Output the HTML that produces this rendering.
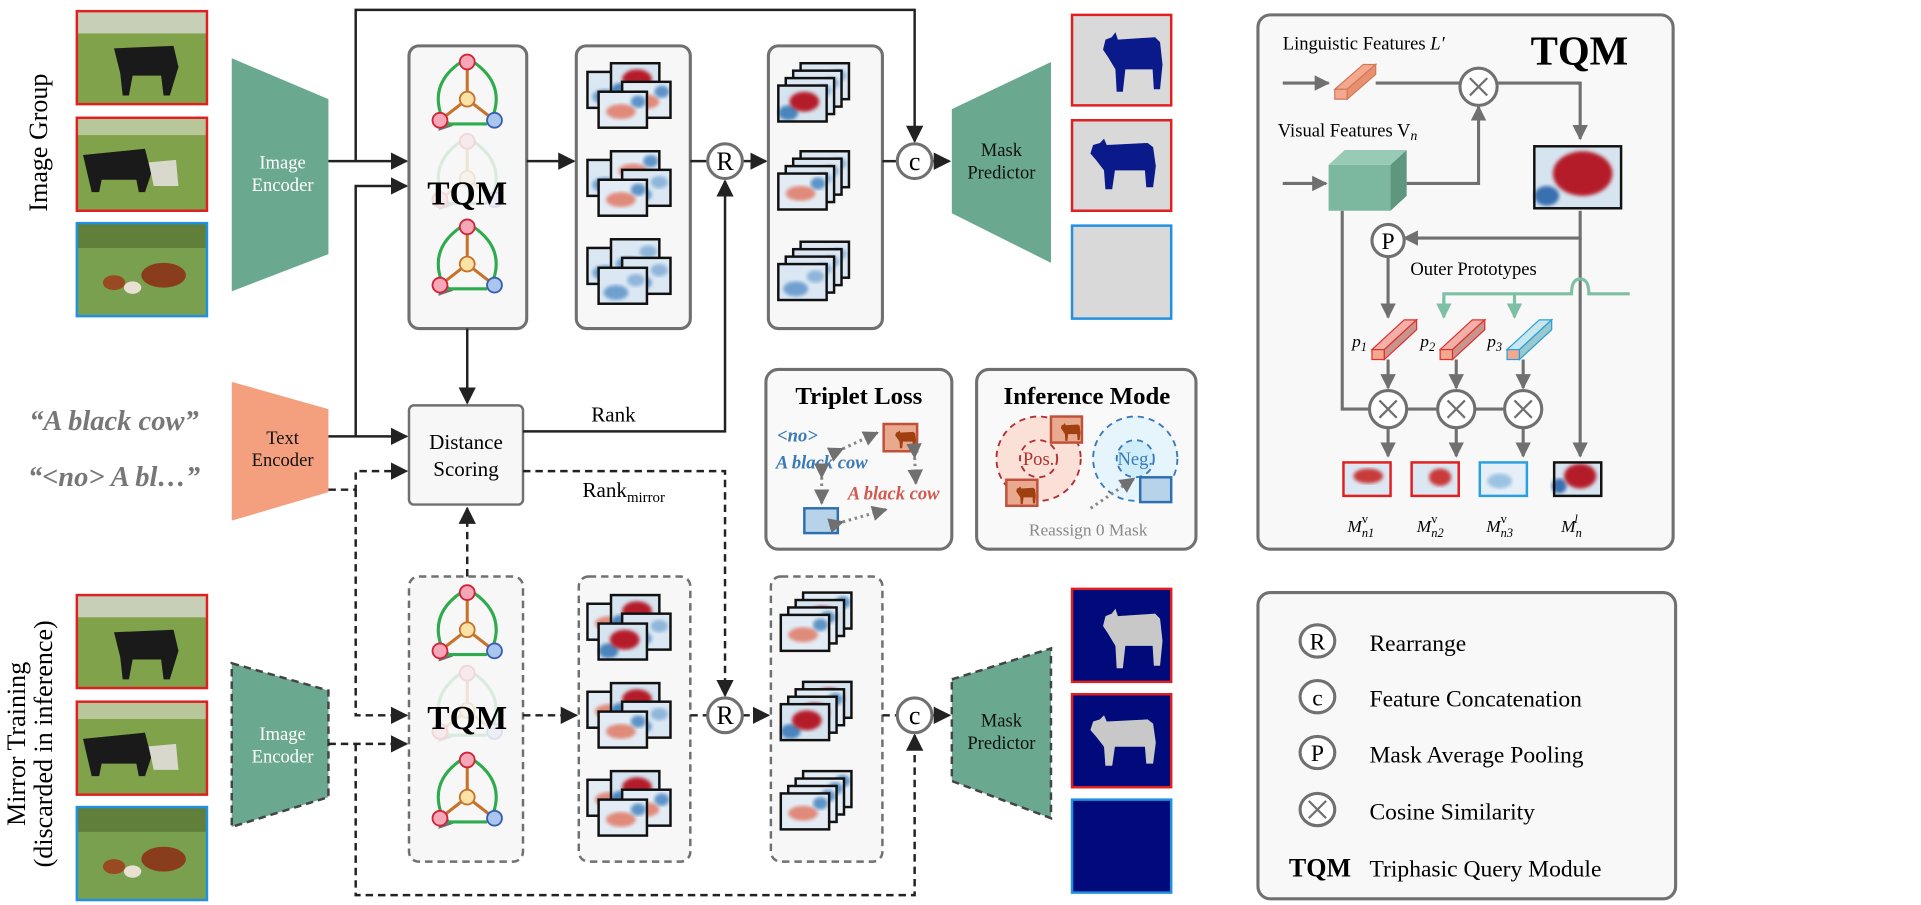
<!DOCTYPE html>
<html><head><meta charset="utf-8"><style>
html,body{margin:0;padding:0;background:#fff;}
svg{display:block;font-family:"Liberation Serif",serif;}
</style></head><body>
<svg width="1921" height="905" viewBox="0 0 1550 730" preserveAspectRatio="none" xmlns="http://www.w3.org/2000/svg">
<defs>
<marker id="ah" viewBox="0 0 10 10" refX="9" refY="5" markerWidth="7" markerHeight="7" orient="auto"><path d="M0,0 L10,5 L0,10 z" fill="#222"/></marker>
<marker id="ag" viewBox="0 0 10 10" refX="9" refY="5" markerWidth="5" markerHeight="5" orient="auto"><path d="M0,0 L10,5 L0,10 z" fill="#707070"/></marker>
<marker id="agr" viewBox="0 0 10 10" refX="9" refY="5" markerWidth="5" markerHeight="5" orient="auto"><path d="M0,0 L10,5 L0,10 z" fill="#7fbfa3"/></marker>
<filter id="bl" x="-50%" y="-50%" width="200%" height="200%"><feGaussianBlur stdDeviation="3"/></filter>
<filter id="bl2"><feGaussianBlur stdDeviation="1.5"/></filter>
<g id="hmR"><rect width="39" height="29" fill="#d6e4f0"/><ellipse cx="8" cy="22" rx="8" ry="6" fill="#4a84bd" filter="url(#bl2)"/><ellipse cx="21" cy="13" rx="12" ry="8" fill="#b51e2a" filter="url(#bl2)"/><rect width="39" height="29" fill="none" stroke="#111" stroke-width="2"/></g>
<g id="hmM"><rect width="39" height="29" fill="#e3ecf5"/><ellipse cx="18" cy="16" rx="12" ry="6" fill="#e08a7a" filter="url(#bl2)"/><ellipse cx="32" cy="8" rx="6" ry="5" fill="#5d93c7" filter="url(#bl2)"/><rect width="39" height="29" fill="none" stroke="#111" stroke-width="2"/></g>
<g id="hmB"><rect width="39" height="29" fill="#dbe7f3"/><ellipse cx="14" cy="20" rx="10" ry="6" fill="#6fa0cf" filter="url(#bl2)"/><ellipse cx="30" cy="10" rx="7" ry="5" fill="#8fb6da" filter="url(#bl2)"/><rect width="39" height="29" fill="none" stroke="#111" stroke-width="2"/></g>
<g id="tri">
<path d="M-21,21 Q-30,-5 -5,-22" fill="none" stroke="#2eab4c" stroke-width="2.5" marker-start="url(#ag)"/>
<path d="M21,21 Q30,-5 5,-22" fill="none" stroke="#2eab4c" stroke-width="2.5"/>
<path d="M-16,28 L16,28" stroke="#2eab4c" stroke-width="2.5"/>
<path d="M0,8 L0,-18 M0,8 L-18,22 M0,8 L18,22" stroke="#c8722a" stroke-width="2.5"/>
<circle cx="0" cy="-22" r="6" fill="#f5a7b8" stroke="#d0243a" stroke-width="1.5"/>
<circle cx="-22" cy="25" r="6" fill="#f7a8b8" stroke="#d0243a" stroke-width="1.5"/>
<circle cx="22" cy="25" r="6" fill="#aac6ee" stroke="#3a5fb0" stroke-width="1.5"/>
<circle cx="0" cy="8" r="6" fill="#fbe3a8" stroke="#c8722a" stroke-width="1.5"/>
</g>
<g id="photo"><rect width="105" height="75" fill="#8fae55"/><rect width="105" height="18" fill="#c7d0b6"/><rect y="18" width="105" height="57" fill="#7fa24a"/><path d="M30,30 L78,28 L82,45 L75,68 L70,68 L68,52 L45,52 L42,68 L37,68 L35,50 Z" fill="#1a1a1a"/></g>
<g id="photo2"><rect width="105" height="75" fill="#7fa24a"/><rect width="105" height="14" fill="#b8c79a"/><path d="M5,30 L55,25 L60,45 L55,60 L50,60 L48,50 L20,50 L18,60 L12,60 Z" fill="#1a1a1a"/><path d="M58,36 L80,34 L82,55 L62,55 Z" fill="#d8d8cc"/></g>
<g id="photo3"><rect width="105" height="75" fill="#79a04e"/><rect width="105" height="20" fill="#5f7f3a"/><ellipse cx="70" cy="42" rx="18" ry="10" fill="#8a3d1c"/><ellipse cx="30" cy="48" rx="9" ry="6" fill="#9a4a22"/><ellipse cx="45" cy="52" rx="7" ry="5" fill="#e8e0d0"/></g>
<g id="cow"><path d="M18,28 L20,20 L25,18 L28,14 L30,20 L60,18 L64,22 L66,40 L64,60 L59,60 L58,44 L36,44 L34,62 L29,62 L28,44 L22,34 Z"/></g>
</defs>

<!-- Image group labels -->
<text transform="translate(38,115) rotate(-90)" font-size="21" text-anchor="middle">Image Group</text>
<text transform="translate(20,600) rotate(-90)" font-size="21" text-anchor="middle">Mirror Training</text>
<text transform="translate(42,600) rotate(-90)" font-size="21" text-anchor="middle">(discarded in inference)</text>

<!-- photos -->
<use href="#photo" x="62" y="9"/><rect x="62" y="9" width="105" height="75" fill="none" stroke="#e02020" stroke-width="2"/>
<use href="#photo2" x="62" y="95"/><rect x="62" y="95" width="105" height="75" fill="none" stroke="#e02020" stroke-width="2"/>
<use href="#photo3" x="62" y="180"/><rect x="62" y="180" width="105" height="75" fill="none" stroke="#2090e0" stroke-width="2"/>
<use href="#photo" x="62" y="480"/><rect x="62" y="480" width="105" height="75" fill="none" stroke="#e02020" stroke-width="2"/>
<use href="#photo2" x="62" y="566"/><rect x="62" y="566" width="105" height="75" fill="none" stroke="#e02020" stroke-width="2"/>
<use href="#photo3" x="62" y="651"/><rect x="62" y="651" width="105" height="75" fill="none" stroke="#2090e0" stroke-width="2"/>

<!-- encoders -->
<path d="M187,47 L265,80 L265,205 L187,235 Z" fill="#6aa88f"/>
<text x="228" y="136" font-size="15" fill="#fff" text-anchor="middle">Image</text>
<text x="228" y="154" font-size="15" fill="#fff" text-anchor="middle">Encoder</text>
<path d="M187,535 L265,557 L265,643 L187,667 Z" fill="#6aa88f" stroke="#444" stroke-width="2" stroke-dasharray="6,4"/>
<text x="228" y="597" font-size="15" fill="#fff" text-anchor="middle">Image</text>
<text x="228" y="615" font-size="15" fill="#fff" text-anchor="middle">Encoder</text>
<path d="M187,308 L265,330 L265,397 L187,420 Z" fill="#f4a07f"/>
<text x="228" y="358" font-size="15" fill="#111" text-anchor="middle">Text</text>
<text x="228" y="376" font-size="15" fill="#111" text-anchor="middle">Encoder</text>
<text x="92" y="347" font-size="23" font-weight="bold" font-style="italic" fill="#777" text-anchor="middle">“A black cow”</text>
<text x="92" y="392" font-size="23" font-weight="bold" font-style="italic" fill="#777" text-anchor="middle">“&lt;no&gt; A bl…”</text>

<!-- top boxes -->
<rect x="330" y="37" width="95" height="228" rx="8" fill="#f7f7f7" stroke="#707070" stroke-width="2.5"/>
<use href="#tri" x="377" y="72"/>
<g opacity="0.15"><use href="#tri" x="377" y="136"/></g>
<text x="377" y="165" font-size="27" font-weight="bold" text-anchor="middle">TQM</text>
<use href="#tri" x="377" y="205"/>
<rect x="465" y="37" width="92" height="228" rx="8" fill="#f7f7f7" stroke="#707070" stroke-width="2.5"/>
<rect x="620" y="37" width="92" height="228" rx="8" fill="#f7f7f7" stroke="#707070" stroke-width="2.5"/>
<g id="stk1">
<use href="#hmB" x="474" y="58"/><use href="#hmR" x="493" y="51"/><use href="#hmM" x="502" y="66"/><use href="#hmM" x="483" y="74"/>
<use href="#hmB" x="474" y="129"/><use href="#hmM" x="493" y="122"/><use href="#hmB" x="502" y="137"/><use href="#hmM" x="483" y="145"/>
<use href="#hmB" x="474" y="200"/><use href="#hmB" x="493" y="193"/><use href="#hmB" x="502" y="208"/><use href="#hmB" x="483" y="216"/>
</g>
<g>
<use href="#hmB" x="646" y="51"/><use href="#hmB" x="640" y="57"/><use href="#hmB" x="634" y="63"/><use href="#hmR" x="628" y="69"/>
<use href="#hmB" x="646" y="122"/><use href="#hmB" x="640" y="128"/><use href="#hmB" x="634" y="134"/><use href="#hmM" x="628" y="140"/>
<use href="#hmB" x="646" y="195"/><use href="#hmB" x="640" y="201"/><use href="#hmB" x="634" y="207"/><use href="#hmB" x="628" y="213"/>
</g>

<!-- bottom dashed boxes -->
<rect x="330" y="465" width="92" height="230" rx="8" fill="#f7f7f7" stroke="#707070" stroke-width="2" stroke-dasharray="6,4"/>
<use href="#tri" x="377" y="500"/>
<g opacity="0.15"><use href="#tri" x="377" y="565"/></g>
<text x="377" y="588" font-size="27" font-weight="bold" text-anchor="middle">TQM</text>
<use href="#tri" x="377" y="635"/>
<rect x="467" y="465" width="90" height="230" rx="8" fill="#f7f7f7" stroke="#707070" stroke-width="2" stroke-dasharray="6,4"/>
<rect x="622" y="465" width="90" height="230" rx="8" fill="#f7f7f7" stroke="#707070" stroke-width="2" stroke-dasharray="6,4"/>
<g>
<use href="#hmM" x="474" y="487"/><use href="#hmR" x="493" y="480"/><use href="#hmB" x="502" y="495"/><use href="#hmR" x="483" y="503"/>
<use href="#hmM" x="474" y="558"/><use href="#hmR" x="493" y="551"/><use href="#hmB" x="502" y="566"/><use href="#hmM" x="483" y="574"/>
<use href="#hmM" x="474" y="629"/><use href="#hmR" x="493" y="622"/><use href="#hmM" x="502" y="637"/><use href="#hmM" x="483" y="645"/>
<use href="#hmM" x="648" y="478"/><use href="#hmR" x="642" y="484"/><use href="#hmM" x="636" y="490"/><use href="#hmM" x="630" y="496"/>
<use href="#hmR" x="648" y="550"/><use href="#hmM" x="642" y="556"/><use href="#hmR" x="636" y="562"/><use href="#hmR" x="630" y="568"/>
<use href="#hmM" x="648" y="622"/><use href="#hmM" x="642" y="628"/><use href="#hmM" x="636" y="634"/><use href="#hmM" x="630" y="640"/>
</g>

<!-- distance scoring -->
<rect x="330" y="327" width="92" height="80" rx="4" fill="#f7f7f7" stroke="#707070" stroke-width="2"/>
<text x="376" y="362" font-size="17" text-anchor="middle">Distance</text>
<text x="376" y="384" font-size="17" text-anchor="middle">Scoring</text>
<text x="495" y="340" font-size="17" text-anchor="middle">Rank</text>
<text x="470" y="401" font-size="17">Rank<tspan font-size="12" dy="4">mirror</tspan></text>

<!-- mask predictors -->
<path d="M768,88 L848,50 L848,212 L768,172 Z" fill="#6aa88f"/>
<text x="808" y="126" font-size="15" fill="#111" text-anchor="middle">Mask</text>
<text x="808" y="144" font-size="15" fill="#111" text-anchor="middle">Predictor</text>
<path d="M768,548 L848,523 L848,660 L768,630 Z" fill="#6aa88f" stroke="#444" stroke-width="2" stroke-dasharray="6,4"/>
<text x="808" y="586" font-size="15" fill="#111" text-anchor="middle">Mask</text>
<text x="808" y="604" font-size="15" fill="#111" text-anchor="middle">Predictor</text>

<!-- masks -->
<rect x="865" y="12" width="80" height="73" fill="#d9d9d9" stroke="#e02020" stroke-width="2"/>
<use href="#cow" transform="translate(872,12)" fill="#0a1a8a"/>
<rect x="865" y="97" width="80" height="73" fill="#d9d9d9" stroke="#e02020" stroke-width="2"/>
<use href="#cow" transform="translate(860,100) scale(1.1,0.85)" fill="#0a1a8a"/>
<rect x="865" y="182" width="80" height="75" fill="#d9d9d9" stroke="#2090e0" stroke-width="2"/>
<rect x="865" y="475" width="80" height="75" fill="#000a7a" stroke="#e02020" stroke-width="2"/>
<use href="#cow" transform="translate(872,477)" fill="#c8c8c8"/>
<rect x="865" y="560" width="80" height="75" fill="#000a7a" stroke="#e02020" stroke-width="2"/>
<use href="#cow" transform="translate(860,565) scale(1.1,0.85)" fill="#c8c8c8"/>
<rect x="865" y="645" width="80" height="75" fill="#000a7a" stroke="#2090e0" stroke-width="2"/>

<!-- solid connectors -->
<g fill="none" stroke="#222" stroke-width="2">
<path d="M265,130 L328,130" marker-end="url(#ah)"/>
<path d="M287,130 L287,8 L738,8 L738,114" marker-end="url(#ah)"/>
<path d="M265,352 L328,352" marker-end="url(#ah)"/>
<path d="M287,352 L287,150 L328,150" marker-end="url(#ah)"/>
<path d="M377,265 L377,325" marker-end="url(#ah)"/>
<path d="M425,130 L463,130" marker-end="url(#ah)"/>
<path d="M557,130 L571,130"/>
<path d="M599,130 L618,130" marker-end="url(#ah)"/>
<path d="M422,348 L585,348 L585,146" marker-end="url(#ah)"/>
<path d="M712,130 L724,130"/>
<path d="M752,130 L766,130" marker-end="url(#ah)"/>
</g>
<g fill="none" stroke="#222" stroke-width="2" stroke-dasharray="6,4">
<path d="M265,395 L287,395 L287,380 L328,380" marker-end="url(#ah)"/>
<path d="M287,395 L287,577 L328,577" marker-end="url(#ah)"/>
<path d="M265,600 L328,600" marker-end="url(#ah)"/>
<path d="M287,600 L287,722 L738,722 L738,593" marker-end="url(#ah)"/>
<path d="M377,465 L377,410" marker-end="url(#ah)"/>
<path d="M422,380 L585,380 L585,561" marker-end="url(#ah)"/>
<path d="M422,577 L465,577" marker-end="url(#ah)"/>
<path d="M557,577 L571,577"/>
<path d="M599,577 L620,577" marker-end="url(#ah)"/>
<path d="M712,577 L724,577"/>
<path d="M752,577 L766,577" marker-end="url(#ah)"/>
</g>
<g fill="#fff" stroke="#707070" stroke-width="2.5">
<circle cx="585" cy="130" r="14"/><circle cx="738" cy="130" r="14"/>
<circle cx="585" cy="577" r="14"/><circle cx="738" cy="577" r="14"/>
</g>
<g font-size="21" text-anchor="middle">
<text x="585" y="137">R</text><text x="738" y="137">c</text>
<text x="585" y="584">R</text><text x="738" y="584">c</text>
</g>

<!-- triplet loss -->
<rect x="618" y="298" width="150" height="145" rx="10" fill="#f9f9f9" stroke="#707070" stroke-width="2.5"/>
<text x="693" y="326" font-size="20" font-weight="bold" text-anchor="middle">Triplet Loss</text>
<text x="627" y="356" font-size="15" font-weight="bold" font-style="italic" fill="#3a7ab8">&lt;no&gt;</text>
<text x="626" y="378" font-size="15" font-weight="bold" font-style="italic" fill="#3a7ab8">A black cow</text>
<text x="684" y="403" font-size="15" font-weight="bold" font-style="italic" fill="#d05a50">A black cow</text>
<rect x="713" y="342" width="27" height="22" fill="#e8a98e" stroke="#c0503a" stroke-width="2"/>
<use href="#cow" transform="translate(716,343) scale(0.35,0.3)" fill="#a04010"/>
<rect x="649" y="410" width="27" height="20" fill="#b7d3ea" stroke="#2f6fb0" stroke-width="2"/>
<g stroke="#888" stroke-width="2.5" stroke-dasharray="2,3" fill="none">
<path d="M680,362 L708,349" marker-end="url(#ag)" marker-start="url(#ag)"/>
<path d="M738,369 L739,390" marker-end="url(#ag)" marker-start="url(#ag)"/>
<path d="M663,385 L663,406" marker-end="url(#ag)" marker-start="url(#ag)"/>
<path d="M680,421 L715,411" marker-end="url(#ag)" marker-start="url(#ag)"/>
</g>

<!-- inference mode -->
<rect x="788" y="298" width="177" height="145" rx="10" fill="#f9f9f9" stroke="#707070" stroke-width="2.5"/>
<text x="877" y="326" font-size="20" font-weight="bold" text-anchor="middle">Inference Mode</text>
<circle cx="838" cy="370" r="34" fill="#fbe0d8" stroke="#b03030" stroke-width="1.5" stroke-dasharray="5,4"/>
<circle cx="838" cy="370" r="15" fill="none" stroke="#b03030" stroke-width="1.5" stroke-dasharray="5,4"/>
<text x="838" y="375" font-size="15" fill="#b03030" text-anchor="middle">Pos.</text>
<circle cx="916" cy="370" r="34" fill="#e6f4fb" stroke="#3a7ab8" stroke-width="1.5" stroke-dasharray="5,4"/>
<circle cx="916" cy="370" r="15" fill="#d0eefa" stroke="#3a7ab8" stroke-width="1.5" stroke-dasharray="5,4"/>
<text x="916" y="375" font-size="15" fill="#3a7ab8" text-anchor="middle">Neg.</text>
<rect x="848" y="336" width="25" height="21" fill="#e8a98e" stroke="#c0503a" stroke-width="2"/>
<use href="#cow" transform="translate(850,337) scale(0.33,0.3)" fill="#a04010"/>
<rect x="812" y="387" width="25" height="21" fill="#e8a98e" stroke="#c0503a" stroke-width="2"/>
<use href="#cow" transform="translate(814,388) scale(0.33,0.3)" fill="#a04010"/>
<rect x="920" y="385" width="25" height="20" fill="#b7d3ea" stroke="#2f6fb0" stroke-width="2"/>
<path d="M880,410 L915,386" stroke="#888" stroke-width="2.5" stroke-dasharray="2,3" fill="none" marker-end="url(#ag)"/>
<text x="878" y="432" font-size="14" fill="#888" text-anchor="middle">Reassign 0 Mask</text>

<!-- TQM detail panel -->
<rect x="1015" y="12" width="335" height="431" rx="10" fill="#f8f8f8" stroke="#707070" stroke-width="2.5"/>
<text x="1035" y="40" font-size="15">Linguistic Features <tspan font-style="italic">L′</tspan></text>
<text x="1235" y="52" font-size="33" font-weight="bold">TQM</text>
<text x="1031" y="110" font-size="15">Visual Features V<tspan font-size="11" font-style="italic" dy="3">n</tspan></text>
<g stroke="#707070" stroke-width="2.5" fill="none">
<path d="M1035,67 L1072,67" marker-end="url(#ag)"/>
<path d="M1035,148 L1070,148" marker-end="url(#ag)"/>
<path d="M1110,67 L1178,67"/>
<path d="M1208,67 L1275,67 L1275,112" marker-end="url(#ag)"/>
<path d="M1135,148 L1193,148 L1193,86" marker-end="url(#ag)"/>
<path d="M1275,170 L1275,192 L1133,192" marker-end="url(#ag)"/>
<path d="M1275,192 L1275,368" marker-end="url(#ag)"/>
<path d="M1120,206 L1120,256" marker-end="url(#ag)"/>
<path d="M1083,170 L1083,330 L1105,330"/>
<path d="M1135,330 L1160,330 M1190,330 L1213,330"/>
<path d="M1120,290 L1120,313" marker-end="url(#ag)"/>
<path d="M1175,290 L1175,313" marker-end="url(#ag)"/>
<path d="M1229,290 L1229,313" marker-end="url(#ag)"/>
<path d="M1120,345 L1120,368" marker-end="url(#ag)"/>
<path d="M1175,345 L1175,368" marker-end="url(#ag)"/>
<path d="M1229,345 L1229,368" marker-end="url(#ag)"/>
</g>
<path d="M1165,255 L1165,237 L1268,237 Q1268,225 1275,225 Q1282,225 1282,237 L1315,237 M1222,237 L1222,255" stroke="#7fbfa3" stroke-width="2.5" fill="none"/>
<path d="M1165,240 L1165,256" stroke="#7fbfa3" stroke-width="2.5" marker-end="url(#agr)"/>
<path d="M1222,240 L1222,256" stroke="#7fbfa3" stroke-width="2.5" marker-end="url(#agr)"/>
<text x="1138" y="222" font-size="15">Outer Prototypes</text>
<!-- linguistic bar -->
<path d="M1077,72 L1100,52 L1110,52 L1087,72 Z" fill="#f4a98e" stroke="#d07a5a"/>
<rect x="1077" y="72" width="10" height="8" fill="#f4a98e" stroke="#d07a5a"/>
<path d="M1087,72 L1110,52 L1110,60 L1087,80 Z" fill="#e89070" stroke="#d07a5a"/>
<!-- cube -->
<rect x="1072" y="133" width="50" height="37" fill="#7cb8a0"/>
<path d="M1072,133 L1085,121 L1135,121 L1122,133 Z" fill="#98cbb5"/>
<path d="M1122,133 L1135,121 L1135,158 L1122,170 Z" fill="#5f9680"/>
<!-- heatmap big -->
<rect x="1238" y="118" width="70" height="50" fill="#d6e4f0"/>
<ellipse cx="1248" cy="158" rx="10" ry="8" fill="#3a70b0" filter="url(#bl2)"/>
<ellipse cx="1277" cy="140" rx="24" ry="18" fill="#b51e2a" filter="url(#bl2)"/>
<rect x="1238" y="118" width="70" height="50" fill="none" stroke="#111" stroke-width="2"/>
<!-- P circle -->
<circle cx="1120" cy="194" r="13" fill="#fff" stroke="#707070" stroke-width="2.5"/>
<text x="1120" y="201" font-size="19" text-anchor="middle">P</text>
<!-- prototype bars -->
<g>
<path d="M1107,282 L1133,258 L1143,258 L1117,282 Z" fill="#f2b0a8" stroke="#e03030"/><rect x="1107" y="282" width="10" height="8" fill="#f4a98e" stroke="#e03030"/><path d="M1117,282 L1143,258 L1143,266 L1117,290 Z" fill="#c8958c" stroke="#e03030"/>
<path d="M1162,282 L1188,258 L1198,258 L1172,282 Z" fill="#f2b0a8" stroke="#e03030"/><rect x="1162" y="282" width="10" height="8" fill="#f4a98e" stroke="#e03030"/><path d="M1172,282 L1198,258 L1198,266 L1172,290 Z" fill="#c8958c" stroke="#e03030"/>
<path d="M1216,282 L1242,258 L1252,258 L1226,282 Z" fill="#c8e6ee" stroke="#2aa0d8"/><rect x="1216" y="282" width="10" height="8" fill="#f4a98e" stroke="#2aa0d8"/><path d="M1226,282 L1252,258 L1252,266 L1226,290 Z" fill="#9ac8cf" stroke="#2aa0d8"/>
</g>
<text x="1091" y="280" font-size="14" font-style="italic">p<tspan font-size="10" dy="3">1</tspan></text>
<text x="1146" y="280" font-size="14" font-style="italic">p<tspan font-size="10" dy="3">2</tspan></text>
<text x="1200" y="280" font-size="14" font-style="italic">p<tspan font-size="10" dy="3">3</tspan></text>
<g fill="#fff" stroke="#707070" stroke-width="2.5">
<circle cx="1120" cy="330" r="15"/><circle cx="1175" cy="330" r="15"/><circle cx="1229" cy="330" r="15"/>
<circle cx="1193" cy="70" r="15"/>
</g>
<g stroke="#707070" stroke-width="1.8">
<path d="M1113,323 L1127,337 M1127,323 L1113,337"/><path d="M1168,323 L1182,337 M1182,323 L1168,337"/><path d="M1222,323 L1236,337 M1236,323 L1222,337"/><path d="M1186,63 L1200,77 M1200,63 L1186,77"/>
</g>
<!-- small maps -->
<rect x="1084" y="373" width="38" height="27" fill="#dbe7f3"/><ellipse cx="1104" cy="384" rx="12" ry="6" fill="#c83a3a" filter="url(#bl2)"/><rect x="1084" y="373" width="38" height="27" fill="none" stroke="#e02020" stroke-width="2"/>
<rect x="1139" y="373" width="38" height="27" fill="#dbe7f3"/><ellipse cx="1162" cy="385" rx="9" ry="7" fill="#c83a3a" filter="url(#bl2)"/><rect x="1139" y="373" width="38" height="27" fill="none" stroke="#e02020" stroke-width="2"/>
<rect x="1194" y="373" width="38" height="27" fill="#e6eff8"/><ellipse cx="1210" cy="388" rx="10" ry="6" fill="#9cc2e2" filter="url(#bl2)"/><rect x="1194" y="373" width="38" height="27" fill="none" stroke="#2aa0e0" stroke-width="2"/>
<rect x="1254" y="373" width="38" height="27" fill="#d6e4f0"/><ellipse cx="1258" cy="392" rx="6" ry="6" fill="#3a70b0" filter="url(#bl2)"/><ellipse cx="1275" cy="384" rx="13" ry="10" fill="#b51e2a" filter="url(#bl2)"/><rect x="1254" y="373" width="38" height="27" fill="none" stroke="#111" stroke-width="2"/>
<g font-size="14" font-style="italic" text-anchor="middle">
<text x="1098" y="429">M<tspan font-size="10" dy="4">n1</tspan><tspan font-size="10" dx="-10" dy="-11" font-style="normal">v</tspan></text>
<text x="1154" y="429">M<tspan font-size="10" dy="4">n2</tspan><tspan font-size="10" dx="-10" dy="-11" font-style="normal">v</tspan></text>
<text x="1210" y="429">M<tspan font-size="10" dy="4">n3</tspan><tspan font-size="10" dx="-10" dy="-11" font-style="normal">v</tspan></text>
<text x="1268" y="429">M<tspan font-size="10" dy="4">n</tspan><tspan font-size="10" dx="-6" dy="-11">l</tspan></text>
</g>

<!-- legend -->
<rect x="1015" y="478" width="337" height="247" rx="10" fill="#f8f8f8" stroke="#707070" stroke-width="2.5"/>
<g fill="#fff" stroke="#707070" stroke-width="2.5">
<ellipse cx="1063" cy="517" rx="14" ry="13"/><ellipse cx="1063" cy="562" rx="14" ry="13"/><ellipse cx="1063" cy="607" rx="14" ry="13"/><ellipse cx="1063" cy="653" rx="14" ry="13"/>
</g>
<g font-size="19" text-anchor="middle"><text x="1063" y="524">R</text><text x="1063" y="569">c</text><text x="1063" y="614">P</text></g>
<path d="M1056,646 L1070,660 M1070,646 L1056,660" stroke="#707070" stroke-width="1.8"/>
<g font-size="19">
<text x="1105" y="525">Rearrange</text>
<text x="1105" y="570">Feature Concatenation</text>
<text x="1105" y="615">Mask Average Pooling</text>
<text x="1105" y="661">Cosine Similarity</text>
<text x="1105" y="707">Triphasic Query Module</text>
<text x="1040" y="707" font-weight="bold" font-size="21">TQM</text>
</g>
</svg>
</body></html>
